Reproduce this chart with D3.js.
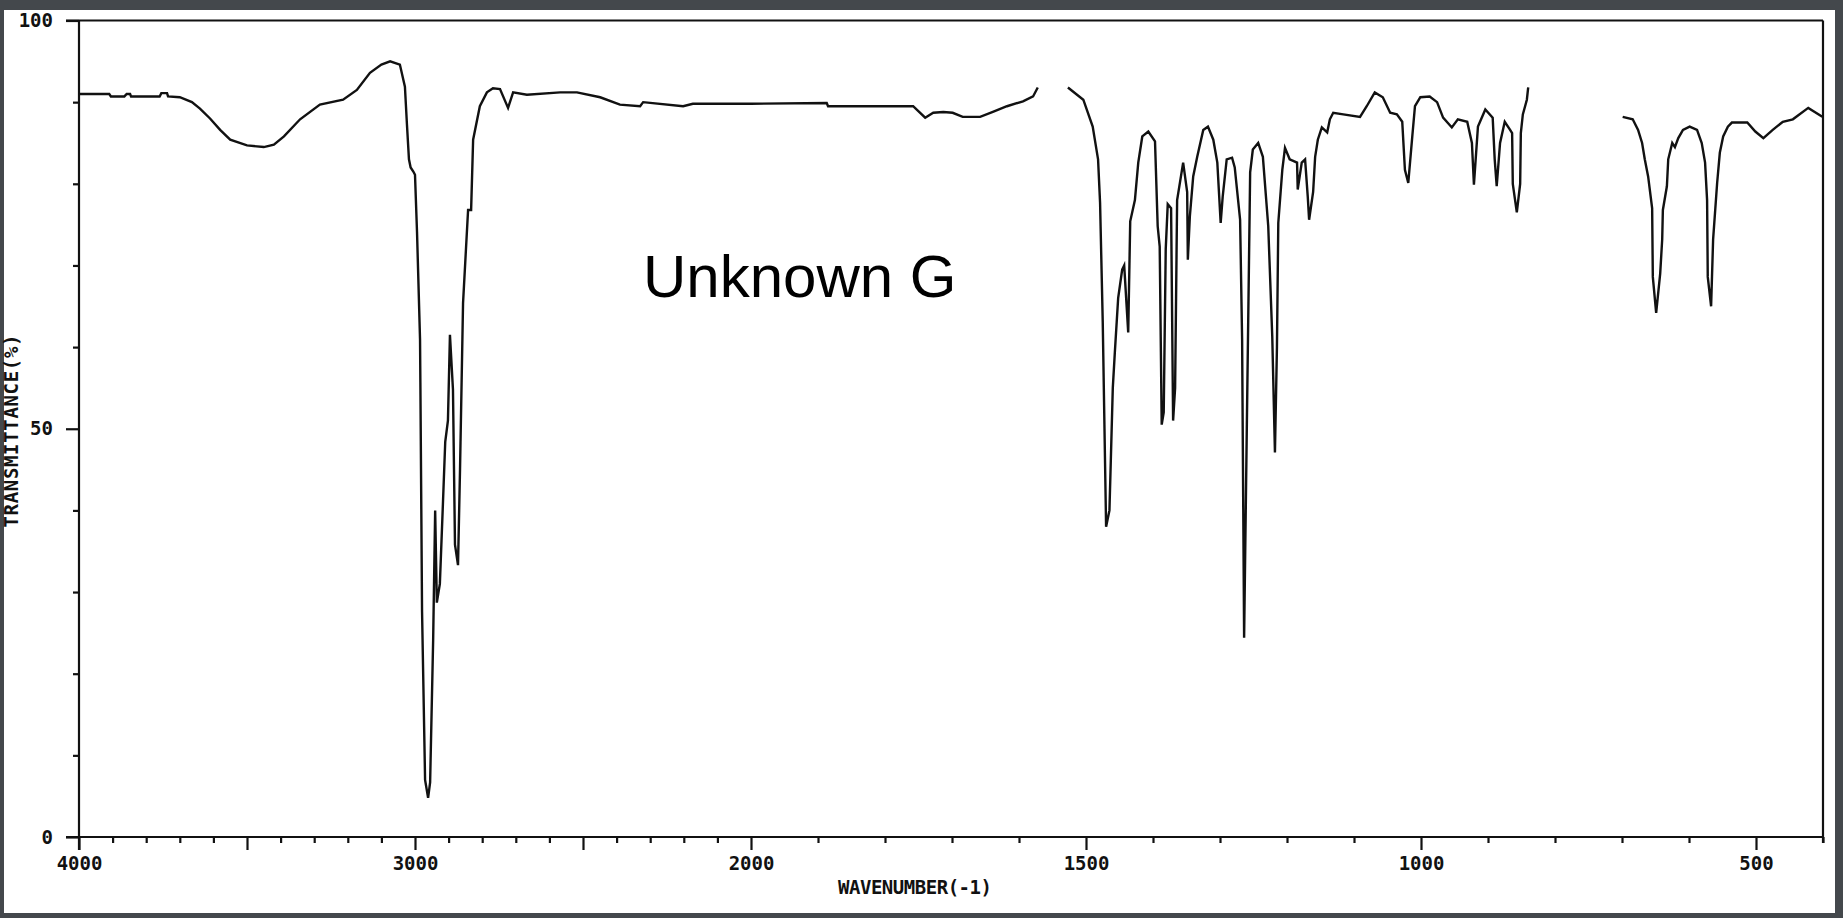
<!DOCTYPE html>
<html>
<head>
<meta charset="utf-8">
<script src="https://cdn.jsdelivr.net/npm/d3@7"></script>
<style>
  html, body { margin: 0; padding: 0; background: #44484c; }
  svg { display: block; }
  .mono { font-family: "DejaVu Sans Mono", monospace; font-size: 19px; font-weight: bold; fill: #111; }
</style>
</head>
<body>
<svg id="chart" width="1843" height="918"></svg>
<script>
// ---------------- DATA ----------------
const title = "Unknown G";
const xTitle = "WAVENUMBER(-1)";
const yTitle = "TRANSMITTANCE(%)";
const xLabelTicks = [4000, 3000, 2000, 1500, 1000, 500];
const xMajorTicks = [4000, 3500, 3000, 2500, 2000, 1500, 1000, 500];
const yLabelTicks = [0, 50, 100];
const yMinorTicks = [10, 20, 30, 40, 60, 70, 80, 90];

// segment 1 : 4000 - 1572 cm-1
const seg1Wn = [4000, 3910, 3905, 3865, 3858, 3848, 3845, 3760, 3755, 3738, 3735, 3700, 3664, 3640, 3610, 3580, 3550, 3500, 3450, 3420, 3390, 3342, 3283, 3214, 3173, 3134, 3100, 3074, 3045, 3030, 3024, 3018, 3013, 3005, 3000, 2994, 2985, 2984, 2979, 2970, 2961, 2955, 2946, 2940, 2935, 2926, 2917, 2910, 2902, 2896, 2887, 2881, 2872, 2866, 2857, 2842, 2833, 2827, 2807, 2786, 2768, 2747, 2723, 2708, 2667, 2568, 2518, 2449, 2390, 2330, 2321, 2202, 2173, 2000, 1887, 1885, 1758, 1740, 1728, 1713, 1699, 1684, 1658, 1639, 1618, 1594, 1579, 1572];
const seg1T  = [91.0, 91.0, 90.7, 90.7, 91.0, 91.0, 90.7, 90.7, 91.1, 91.1, 90.7, 90.6, 90.0, 89.2, 88.0, 86.6, 85.4, 84.7, 84.5, 84.8, 85.8, 87.9, 89.7, 90.3, 91.5, 93.6, 94.6, 95.0, 94.6, 91.9, 87.3, 83.0, 82.0, 81.5, 81.1, 74.1, 60.9, 55.7, 27.6, 7.0, 4.8, 6.7, 24.1, 40.0, 28.7, 31.0, 40.7, 48.4, 51.0, 61.5, 54.8, 35.8, 33.3, 45.0, 65.4, 76.8, 76.8, 85.4, 89.5, 91.2, 91.7, 91.6, 89.3, 91.2, 90.9, 91.2, 91.2, 90.6, 89.7, 89.5, 90.0, 89.5, 89.8, 89.8, 89.9, 89.5, 89.5, 88.1, 88.7, 88.8, 88.7, 88.2, 88.2, 88.8, 89.5, 90.1, 90.7, 91.8];

// segment 2 : 1527 - 840 cm-1
const seg2Wn = [1527, 1504, 1490, 1482, 1479, 1475, 1470, 1465, 1460, 1457, 1452, 1446, 1443, 1437, 1434, 1427, 1422, 1416, 1407, 1397, 1393, 1390, 1387, 1384, 1381, 1378, 1373, 1370, 1367, 1364, 1355, 1349, 1348, 1345, 1340, 1334, 1325, 1318, 1310, 1304, 1299, 1296, 1290, 1282, 1278, 1270, 1267, 1264, 1260, 1255, 1251, 1243, 1236, 1228, 1222, 1218, 1215, 1213, 1207, 1203, 1196, 1185, 1184, 1178, 1173, 1169, 1167, 1161, 1158, 1154, 1148, 1140, 1136, 1131, 1116, 1091, 1081, 1069, 1057, 1046, 1036, 1028, 1024, 1019, 1013, 1009, 1001, 987, 976, 967, 954, 945, 931, 924, 921, 915, 904, 893, 890, 887, 882, 875, 867, 864, 863, 857, 852, 851, 848, 842, 840];
const seg2T  = [91.8, 90.3, 87.0, 83.0, 77.7, 63.0, 38.0, 40.0, 55.0, 59.3, 66.0, 69.5, 70.0, 61.8, 75.4, 78.0, 82.6, 85.8, 86.4, 85.2, 74.8, 72.3, 50.5, 52.0, 72.0, 77.5, 77.0, 51.0, 55.0, 78.0, 82.6, 79.0, 70.7, 76.0, 80.9, 83.3, 86.6, 87.0, 85.4, 82.6, 75.2, 78.4, 83.0, 83.2, 82.0, 75.6, 61.0, 24.4, 50.0, 81.4, 84.2, 85.0, 83.3, 74.8, 61.3, 47.1, 60.0, 75.2, 81.7, 84.4, 83.0, 82.6, 79.3, 82.6, 83.0, 78.4, 75.6, 79.0, 83.3, 85.4, 86.9, 86.3, 87.9, 88.7, 88.5, 88.2, 89.5, 91.2, 90.6, 88.7, 88.5, 87.6, 81.7, 80.1, 85.8, 89.5, 90.6, 90.7, 90.0, 88.1, 86.9, 87.9, 87.6, 85.0, 79.9, 87.0, 89.1, 88.1, 83.0, 79.7, 85.0, 87.6, 86.6, 86.2, 80.0, 76.5, 80.0, 86.2, 88.5, 90.3, 91.8];

// segment 3 : 699 - 400 cm-1
const seg3Wn = [699, 684, 676, 670, 666, 661, 655, 654, 649, 643, 640, 639, 633, 631, 625, 621, 616, 609, 599, 588, 581, 576, 573, 572, 567, 564, 558, 554, 549, 542, 536, 513, 501, 489, 475, 460, 445, 422, 401];
const seg3T  = [88.2, 87.9, 86.6, 85.0, 83.0, 80.9, 77.0, 68.6, 64.2, 69.0, 73.2, 76.8, 79.7, 83.0, 85.0, 84.5, 85.6, 86.6, 87.0, 86.6, 85.0, 82.6, 78.0, 68.6, 65.0, 73.2, 80.1, 83.8, 85.8, 87.0, 87.5, 87.5, 86.4, 85.6, 86.6, 87.6, 87.9, 89.3, 88.2];

// ---------------- DRAW ----------------
const svg = d3.select("#chart");

// white panel
svg.append("rect").attr("x", 4).attr("y", 10).attr("width", 1831).attr("height", 903).attr("fill", "#ffffff");

const x = d3.scaleLinear().domain([4000, 2000, 400]).range([79, 751, 1823]);
const y = d3.scaleLinear().domain([0, 100]).range([837, 20.5]);

const g = svg.append("g");

// spectrum
const line = d3.line().x(d => x(d[0])).y(d => y(d[1]));
[[seg1Wn, seg1T], [seg2Wn, seg2T], [seg3Wn, seg3T]].forEach(([w, t]) => {
  const pts = w.map((v, i) => [v, t[i]]);
  g.append("path").datum(pts).attr("d", line)
    .attr("fill", "none").attr("stroke", "#111").attr("stroke-width", 2.4)
    .attr("stroke-linejoin", "miter");
});

// top & right frame
g.append("line").attr("x1", 66).attr("x2", x(400)).attr("y1", y(100)).attr("y2", y(100))
  .attr("stroke", "#111").attr("stroke-width", 2.2);
g.append("line").attr("x1", x(400)).attr("x2", x(400)).attr("y1", y(100)).attr("y2", y(0) + 6)
  .attr("stroke", "#111").attr("stroke-width", 2.2);

// x axis: minor ticks
const xMinor = d3.range(4000, 399, -100).filter(v => !xMajorTicks.includes(v));
const xMinorAxis = d3.axisBottom(x).tickValues(xMinor).tickSize(6).tickFormat("").tickSizeOuter(0);
const xMinorG = g.append("g").attr("transform", `translate(0,${y(0)})`).call(xMinorAxis);
xMinorG.select(".domain").remove();

const xMajorAxis = d3.axisBottom(x).tickValues(xMajorTicks).tickSize(13).tickSizeOuter(0)
  .tickPadding(7).tickFormat(d => xLabelTicks.includes(d) ? String(d) : "");
const xMajorG = g.append("g").attr("transform", `translate(0,${y(0)})`).call(xMajorAxis);
xMajorG.select(".domain").remove();

// x baseline
g.append("line").attr("x1", 66).attr("x2", x(400)).attr("y1", y(0)).attr("y2", y(0))
  .attr("stroke", "#111").attr("stroke-width", 2.2);

// y axis
const yMinorAxis = d3.axisLeft(y).tickValues(yMinorTicks).tickSize(6).tickFormat("").tickSizeOuter(0);
const yMinorG = g.append("g").attr("transform", `translate(79,0)`).call(yMinorAxis);
yMinorG.select(".domain").remove();
const yMajorAxis = d3.axisLeft(y).tickValues(yLabelTicks).tickSize(13).tickPadding(13).tickSizeOuter(0)
  .tickFormat(d => String(d));
const yMajorG = g.append("g").attr("transform", `translate(79,0)`).call(yMajorAxis);
yMajorG.select(".domain").remove();
g.append("line").attr("x1", 79).attr("x2", 79).attr("y1", y(100)).attr("y2", y(0) + 13)
  .attr("stroke", "#111").attr("stroke-width", 2.2);

g.selectAll(".tick line").attr("stroke", "#111").attr("stroke-width", 2.2);
g.selectAll(".tick text").attr("class", "mono").attr("fill", "#111")
  .style("font-family", "'DejaVu Sans Mono', monospace").style("font-size", "19px").style("font-weight", "bold");

// axis titles
g.append("text").attr("class", "mono").attr("x", 915).attr("y", 894)
  .attr("text-anchor", "middle").attr("textLength", 154).attr("lengthAdjust", "spacing").text(xTitle);
g.append("text").attr("class", "mono")
  .attr("transform", "translate(18,431) rotate(-90)")
  .attr("text-anchor", "middle").attr("textLength", 193).attr("lengthAdjust", "spacing").text(yTitle);

// chart label
g.append("text").attr("x", 643).attr("y", 297)
  .style("font-family", "'Liberation Sans', Arial, sans-serif").style("font-size", "60px")
  .attr("fill", "#000").text(title);
</script>
</body>
</html>
